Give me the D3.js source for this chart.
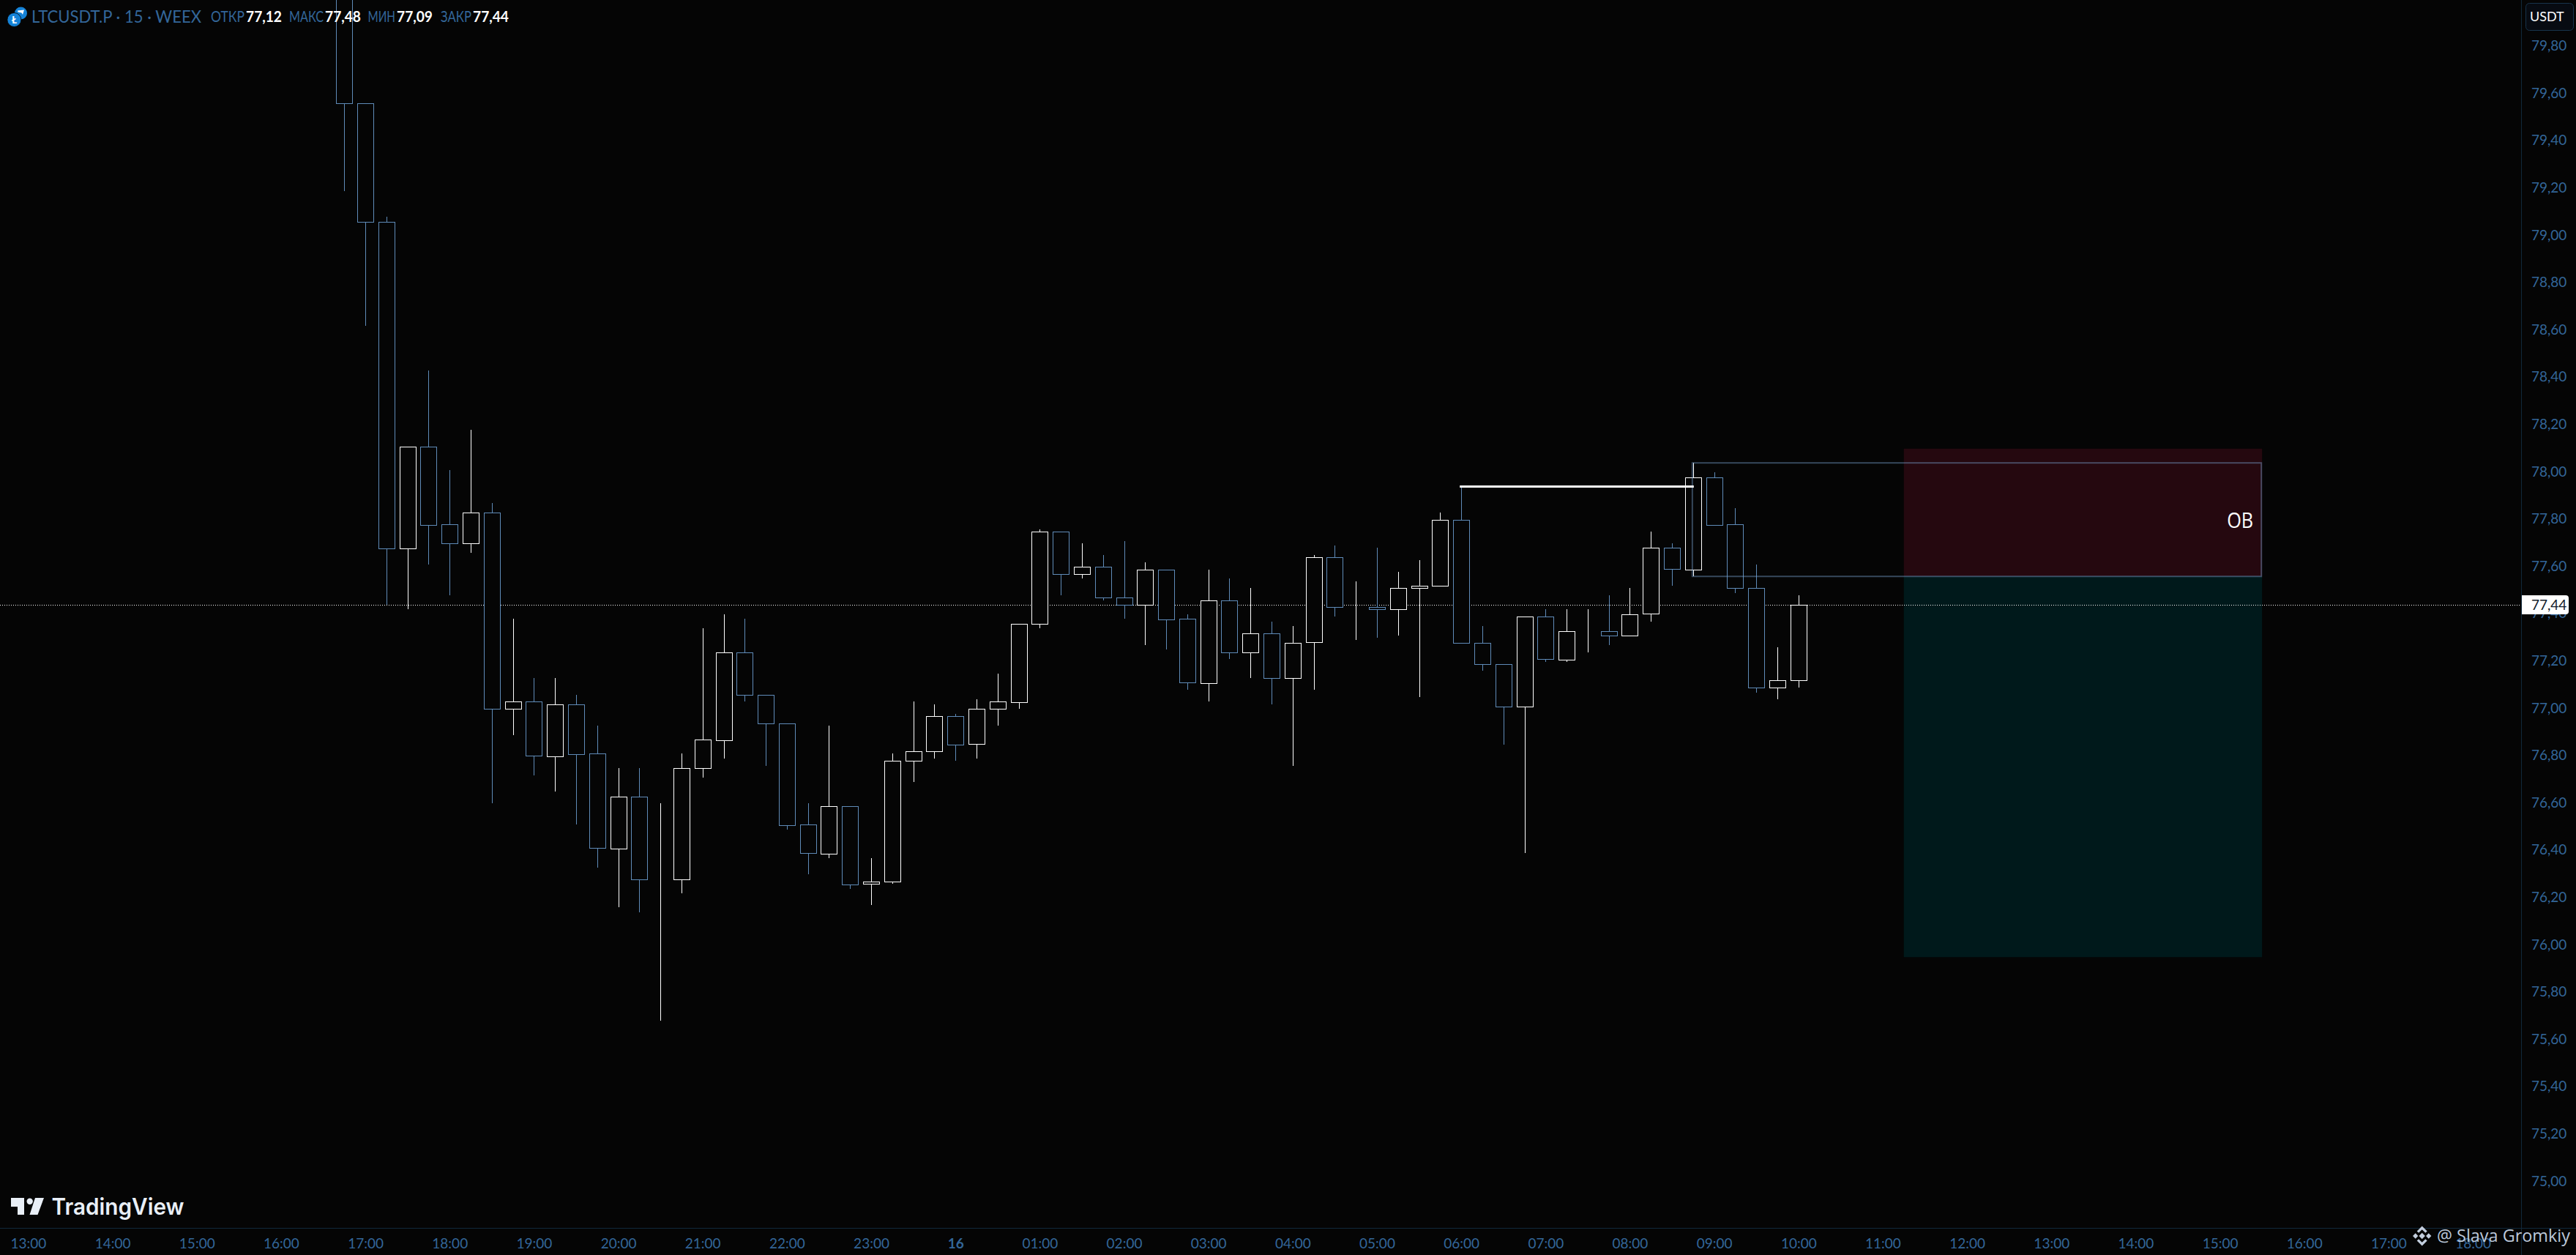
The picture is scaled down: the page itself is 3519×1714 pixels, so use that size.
<!DOCTYPE html>
<html><head><meta charset="utf-8">
<script src="https://cdn.jsdelivr.net/npm/d3@7/dist/d3.min.js"></script>
<style>html,body{margin:0;padding:0;background:#050505;overflow:hidden}svg{display:block}</style>
</head><body><div id="chart"></div>
<script>
// 15-minute candles, LTCUSDT.P, index 0 = 16:45
const opens=[80.12,79.56,79.06,77.68,78.11,77.78,77.70,77.83,77.00,77.03,76.80,77.02,76.81,76.41,76.63,76.28,76.28,76.75,76.87,77.24,77.06,76.94,76.51,76.39,76.59,76.26,76.27,76.78,76.82,76.97,76.85,77.00,77.03,77.36,77.75,77.57,77.60,77.47,77.44,77.59,77.38,77.11,77.46,77.24,77.32,77.13,77.28,77.64,77.43,77.43,77.42,77.51,77.52,77.80,77.28,77.19,77.01,77.39,77.21,77.33,77.33,77.31,77.40,77.68,77.59,77.98,77.78,77.51,77.09,77.12];
const highs=[80.30,79.56,79.08,78.11,78.43,78.01,78.18,77.87,77.38,77.13,77.13,77.06,76.93,76.75,76.75,76.60,76.81,77.34,77.40,77.38,77.06,76.94,76.60,76.93,76.59,76.37,76.81,77.03,77.02,76.98,77.04,77.15,77.36,77.76,77.75,77.70,77.65,77.71,77.62,77.59,77.40,77.59,77.55,77.51,77.37,77.35,77.65,77.69,77.54,77.68,77.58,77.63,77.83,77.94,77.35,77.19,77.39,77.42,77.42,77.42,77.48,77.51,77.75,77.70,78.04,78.00,77.85,77.61,77.26,77.48];
const lows=[79.19,78.62,77.44,77.42,77.61,77.48,77.66,76.60,76.89,76.72,76.65,76.51,76.33,76.16,76.14,75.68,76.22,76.71,76.79,77.03,76.76,76.49,76.30,76.37,76.24,76.17,76.26,76.69,76.79,76.78,76.79,76.93,77.00,77.34,77.48,77.55,77.46,77.38,77.27,77.25,77.08,77.03,77.21,77.13,77.02,76.76,77.08,77.39,77.29,77.30,77.31,77.05,77.52,77.28,77.16,76.85,76.39,77.20,77.20,77.24,77.27,77.31,77.37,77.52,77.56,77.78,77.49,77.07,77.04,77.09];
const closes=[79.56,79.06,77.68,78.11,77.78,77.70,77.83,77.00,77.03,76.80,77.02,76.81,76.41,76.63,76.28,76.28,76.75,76.87,77.24,77.06,76.94,76.51,76.39,76.59,76.26,76.27,76.78,76.82,76.97,76.85,77.00,77.03,77.36,77.75,77.57,77.60,77.47,77.44,77.59,77.38,77.11,77.46,77.24,77.32,77.13,77.28,77.64,77.43,77.43,77.42,77.51,77.52,77.80,77.28,77.19,77.01,77.39,77.21,77.33,77.33,77.31,77.40,77.68,77.59,77.98,77.78,77.51,77.09,77.12,77.44];
const priceTicks=[75,75.2,75.4,75.6,75.8,76,76.2,76.4,76.6,76.8,77,77.2,77.4,77.6,77.8,78,78.2,78.4,78.6,78.8,79,79.2,79.4,79.6,79.8];
const timeLabels=["13:00","14:00","15:00","16:00","17:00","18:00","19:00","20:00","21:00","22:00","23:00","16","01:00","02:00","03:00","04:00","05:00","06:00","07:00","08:00","09:00","10:00","11:00","12:00","13:00","14:00","15:00","16:00","17:00","18:00"];
const timeIndex=[-15,-11,-7,-3,1,5,9,13,17,21,25,29,33,37,41,45,49,53,57,61,65,69,73,77,81,85,89,93,97,101];
const sweep={from:53,to:64,price:77.94};
const orderBlock={from:64,to:91,top:78.04,bottom:77.56,label:"OB",labelPrice:77.80};
const position={from:74,to:91,stop:78.10,entry:77.56,target:75.95};
const lastPrice=77.44;
const headerNames=["ОТКР","МАКС","МИН","ЗАКР"];
const headerStart=[288,395,502.5,602];

const W=3519,H=1714,AX=3444,AY=1677;
const BLUE="#5f8bb8",WHITE="#ffffff",LABEL="#336699",BG="#050505";
const FONT="Lato, 'Open Sans', sans-serif";
const x=d3.scaleLinear().domain([0,69]).range([470.3,2456.8]);
const y=d3.scaleLinear().domain([77.44,75]).range([826,826+2.44*323]);
const fmt=v=>d3.format(".2f")(v).replace(".",",");
const px=v=>Math.round(v)+0.5;

const svg=d3.select("#chart").append("svg").attr("width",W).attr("height",H).attr("viewBox",`0 0 ${W} ${H}`);
svg.append("rect").attr("width",W).attr("height",H).attr("fill",BG);

svg.append("defs").append("clipPath").attr("id","pane").append("rect").attr("width",AX).attr("height",AY);
const pane=svg.append("g").attr("clip-path","url(#pane)");

// long position zones
pane.append("rect").attr("x",x(position.from)).attr("width",x(position.to)-x(position.from))
  .attr("y",y(position.stop)).attr("height",y(position.entry)-y(position.stop)).attr("fill","#25080f");
pane.append("rect").attr("x",x(position.from)).attr("width",x(position.to)-x(position.from))
  .attr("y",y(position.entry)).attr("height",y(position.target)-y(position.entry)).attr("fill","#00191b");

// last price line
pane.append("line").attr("x1",0).attr("x2",AX).attr("y1",px(y(lastPrice))).attr("y2",px(y(lastPrice)))
  .attr("stroke","#ffffff").attr("stroke-width",1).attr("stroke-dasharray","1 2");

// candles
const candles=d3.range(closes.length).map(i=>({i,o:opens[i],h:highs[i],l:lows[i],c:closes[i]}));
const g=pane.append("g").attr("shape-rendering","crispEdges");
const col=d=>d.c>=d.o?WHITE:BLUE;
g.selectAll("line.w").data(candles).join("line").attr("class","w")
  .attr("x1",d=>px(x(d.i))).attr("x2",d=>px(x(d.i))).attr("y1",d=>y(d.h)).attr("y2",d=>y(d.l))
  .attr("stroke",col).attr("stroke-width",1);
g.selectAll("rect.b").data(candles).join("rect").attr("class","b")
  .attr("x",d=>px(x(d.i))-11).attr("width",22)
  .attr("y",d=>px(y(Math.max(d.o,d.c)))).attr("height",d=>Math.max(0,Math.round(Math.abs(y(d.o)-y(d.c)))))
  .attr("fill",BG).attr("stroke",col).attr("stroke-width",1);

// order block
pane.append("rect").attr("x",x(orderBlock.from)-1).attr("width",x(orderBlock.to)-x(orderBlock.from))
  .attr("y",y(orderBlock.top)).attr("height",y(orderBlock.bottom)-y(orderBlock.top))
  .attr("fill","none").attr("stroke","#7ba6d6").attr("stroke-opacity",0.42).attr("stroke-width",2);
pane.append("text").attr("x",x(orderBlock.to)-12).attr("y",y(orderBlock.labelPrice)).attr("dy","0.36em")
  .attr("text-anchor","end").attr("fill","#fff").attr("font-family","'Open Sans',sans-serif").attr("font-size",30)
  .attr("textLength",36).attr("lengthAdjust","spacingAndGlyphs").text(orderBlock.label);

// sweep line
pane.append("line").attr("x1",x(sweep.from)-2).attr("x2",x(sweep.to)+1).attr("y1",y(sweep.price)).attr("y2",y(sweep.price))
  .attr("stroke","#fff").attr("stroke-width",3);

// axis borders
svg.append("line").attr("x1",px(AX)).attr("x2",px(AX)).attr("y1",0).attr("y2",H).attr("stroke","#10283a");
svg.append("line").attr("x1",0).attr("x2",W).attr("y1",px(AY)).attr("y2",px(AY)).attr("stroke","#10283a");

// axes
const yAxis=d3.axisRight(y).tickValues(priceTicks).tickSize(0).tickPadding(0).tickFormat(fmt);
const ya=svg.append("g").attr("transform","translate(3458,-1.2)").call(yAxis);
ya.select(".domain").remove();
ya.selectAll("text").attr("fill",LABEL).attr("font-family",FONT).attr("font-size",19);
const xAxis=d3.axisBottom(x).tickValues(timeIndex).tickSize(0).tickPadding(0).tickFormat((d,i)=>timeLabels[i]);
const xa=svg.append("g").attr("transform","translate(0,1692)").call(xAxis);
xa.select(".domain").remove();
xa.selectAll("text").attr("fill",LABEL).attr("font-family",FONT).attr("font-size",19).attr("dy",0).attr("y",13)
  .attr("font-weight",(d,i)=>timeLabels[i].includes(":")?400:700);

// last price tag
svg.append("path").attr("d","M3445 813H3505a4 4 0 0 1 4 4V835a4 4 0 0 1 -4 4H3445Z").attr("fill","#fff");
svg.append("text").attr("x",3458).attr("y",y(lastPrice)).attr("dy","0.35em").attr("fill","#111c2b")
  .attr("font-family",FONT).attr("font-size",19).text(fmt(lastPrice));

// currency box
svg.append("rect").attr("x",3450.5).attr("y",4.5).attr("width",65).attr("height",37).attr("rx",5)
  .attr("fill","#070b12").attr("stroke","#17344c");
svg.append("text").attr("x",3456).attr("y",23).attr("dy","0.35em").attr("fill","#fff").attr("font-family",FONT)
  .attr("font-size",18).text("USDT");

// header
const logo=svg.append("g");
logo.append("circle").attr("cx",28.5).attr("cy",18).attr("r",8.5).attr("fill","#1583d8");
logo.append("path").attr("d","M24 14.5L33 13.5L31 20L29.5 17.5L24.5 16.5Z").attr("fill","#fff");
logo.append("circle").attr("cx",19.4).attr("cy",27).attr("r",9.5).attr("fill","#1583d8").attr("stroke",BG).attr("stroke-width",0.8);
logo.append("text").attr("x",19.4).attr("y",27).attr("dy","0.36em").attr("text-anchor","middle").attr("fill","#fff")
  .attr("font-family","Lato, sans-serif").attr("font-weight",900).attr("font-size",13).text("Ł");
svg.append("text").attr("x",43).attr("y",22).attr("dy","0.36em").attr("fill",LABEL).attr("font-family",FONT).attr("font-size",24)
  .attr("textLength",232).attr("lengthAdjust","spacingAndGlyphs").text("LTCUSDT.P · 15 · WEEX");
const last=closes.length-1;
const headerValues=[opens[last],highs[last],lows[last],closes[last]];
const headerNameWidth=[48,49,39.5,44];
headerNames.forEach((n,i)=>{
  svg.append("text").attr("x",headerStart[i]).attr("y",22).attr("dy","0.36em").attr("fill",LABEL).attr("font-family",FONT).attr("font-size",21)
    .attr("textLength",headerNameWidth[i]-2).attr("lengthAdjust","spacingAndGlyphs").text(n);
  svg.append("text").attr("x",headerStart[i]+headerNameWidth[i]).attr("y",22).attr("dy","0.36em").attr("fill","#fff").attr("font-family",FONT).attr("font-size",21).attr("font-weight",700)
    .attr("textLength",49).attr("lengthAdjust","spacingAndGlyphs").text(fmt(headerValues[i]));
});

// TradingView mark
const tv=svg.append("g").attr("fill","#e9eff7");
tv.append("path").attr("d","M15 1636H33V1659H24V1648H15Z");
tv.append("circle").attr("cx",40.7).attr("cy",1640.7).attr("r",4.2);
tv.append("path").attr("d","M48 1636H60L51.5 1659H40.5Z");
svg.append("text").attr("x",70.5).attr("y",1659).attr("fill","#e9eff7").attr("font-family","Inter, sans-serif").attr("font-weight",600)
  .attr("font-size",31).attr("textLength",181).attr("lengthAdjust","spacingAndGlyphs").text("TradingView");

// watermark
const wm=svg.append("g").attr("fill","#c3cede").attr("transform","translate(3308.7,1688)");
[[9,0],[-9,0],[0,0]].forEach(([a,b],i)=>{
  const s=i===2?3:2.6;
  wm.append("rect").attr("x",a-s).attr("y",b-s).attr("width",2*s).attr("height",2*s).attr("transform",`rotate(45 ${a} ${b})`);
});
wm.append("path").attr("d","M0 -13.5L7 -6.5L4.6 -4.2L0 -8.8L-4.6 -4.2L-7 -6.5Z");
wm.append("path").attr("d","M0 13.5L7 6.5L4.6 4.2L0 8.8L-4.6 4.2L-7 6.5Z");
svg.append("text").attr("x",3329).attr("y",1688).attr("dy","0.35em").attr("fill","#bcc8da").attr("font-family","'Open Sans',sans-serif")
  .attr("font-size",24).attr("textLength",182).attr("lengthAdjust","spacingAndGlyphs").text("@ Slava Gromkiy");
</script></body></html>
